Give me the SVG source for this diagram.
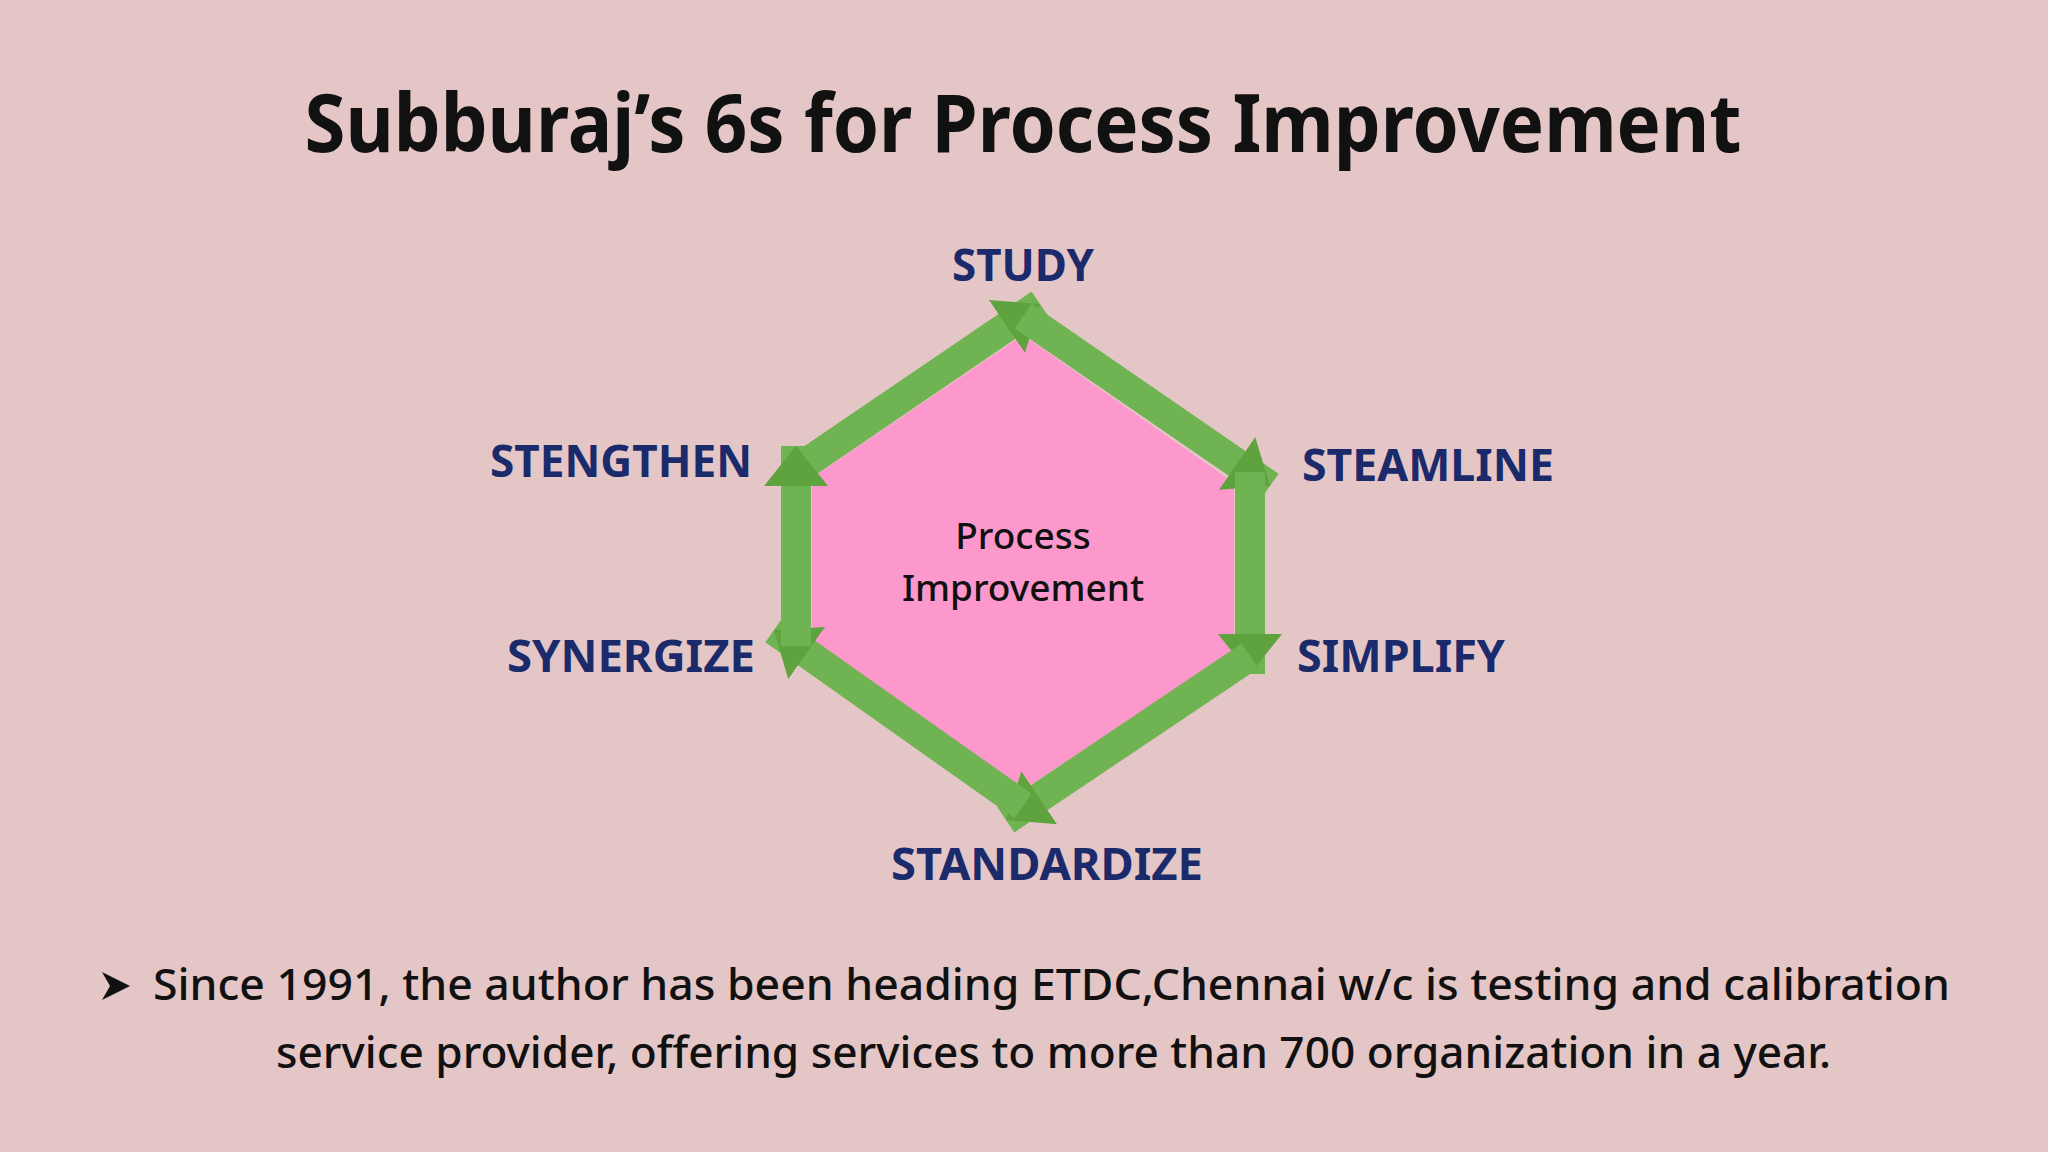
<svg xmlns="http://www.w3.org/2000/svg" width="2048" height="1152" viewBox="0 0 2048 1152">
<style>
.lbl{font-family:"Noto Sans","Liberation Sans",sans-serif;font-weight:bold;font-size:44px;fill:#1b2a6b}
.body{font-family:"Noto Sans","Liberation Sans",sans-serif;font-weight:500;font-size:44px;fill:#111}
.edge{stroke:#6fb352;stroke-width:30;fill:none;marker-end:url(#ah)}
</style>
<defs>
<marker id="ah" markerUnits="userSpaceOnUse" markerWidth="64" markerHeight="64" refX="40" refY="32" orient="auto">
<path d="M0,0 L40,32 L0,64 Z" fill="#5fa33e"/>
</marker>
</defs>
<rect width="2048" height="1152" fill="#e5c6c6"/>
<text x="1023" y="152" text-anchor="middle" font-family="Noto Sans,Liberation Sans,sans-serif" font-weight="bold" font-size="80" fill="#111" textLength="1437" lengthAdjust="spacingAndGlyphs">Subburaj’s 6s for Process Improvement</text>
<g id="hub">
<polygon points="1023,335 1234,483 1234,650 1023,790 812,640 812,478" fill="#fc98cc"/>
<text x="1023" y="549" text-anchor="middle" font-family="Noto Sans,Liberation Sans,sans-serif" font-weight="500" font-size="37" fill="#111">Process</text>
<text x="1023" y="601" text-anchor="middle" font-family="Noto Sans,Liberation Sans,sans-serif" font-weight="500" font-size="37" fill="#111">Improvement</text>
</g>
<g id="connectors">
<line class="edge" x1="796" y1="470" x2="1040" y2="304"/>
<line class="edge" x1="1023" y1="316" x2="1270" y2="486"/>
<line class="edge" x1="1250" y1="472" x2="1250" y2="674"/>
<line class="edge" x1="1250" y1="656" x2="1006" y2="820"/>
<line class="edge" x1="1023" y1="806" x2="774" y2="630"/>
<line class="edge" x1="796" y1="646" x2="796" y2="446"/>
</g>
<g id="study"><text class="lbl" x="952" y="281" textLength="142" lengthAdjust="spacingAndGlyphs">STUDY</text></g>
<g id="steamline"><text class="lbl" x="1302" y="481" textLength="252" lengthAdjust="spacingAndGlyphs">STEAMLINE</text></g>
<g id="simplify"><text class="lbl" x="1297" y="672" textLength="208" lengthAdjust="spacingAndGlyphs">SIMPLIFY</text></g>
<g id="standardize"><text class="lbl" x="891" y="880" textLength="312" lengthAdjust="spacingAndGlyphs">STANDARDIZE</text></g>
<g id="synergize"><text class="lbl" x="507" y="672" textLength="248" lengthAdjust="spacingAndGlyphs">SYNERGIZE</text></g>
<g id="stengthen"><text class="lbl" x="490" y="477" textLength="262" lengthAdjust="spacingAndGlyphs">STENGTHEN</text></g>
<g id="bullet">
<path d="M102,972 L130,986 L102,1000 L110,986 Z" fill="#111"/>
<text class="body" x="153" y="1000" textLength="1797" lengthAdjust="spacingAndGlyphs">Since 1991, the author has been heading ETDC,Chennai w/c is testing and calibration</text>
<text class="body" x="276" y="1068" textLength="1555" lengthAdjust="spacingAndGlyphs">service provider, offering services to more than 700 organization in a year.</text>
</g>
</svg>
